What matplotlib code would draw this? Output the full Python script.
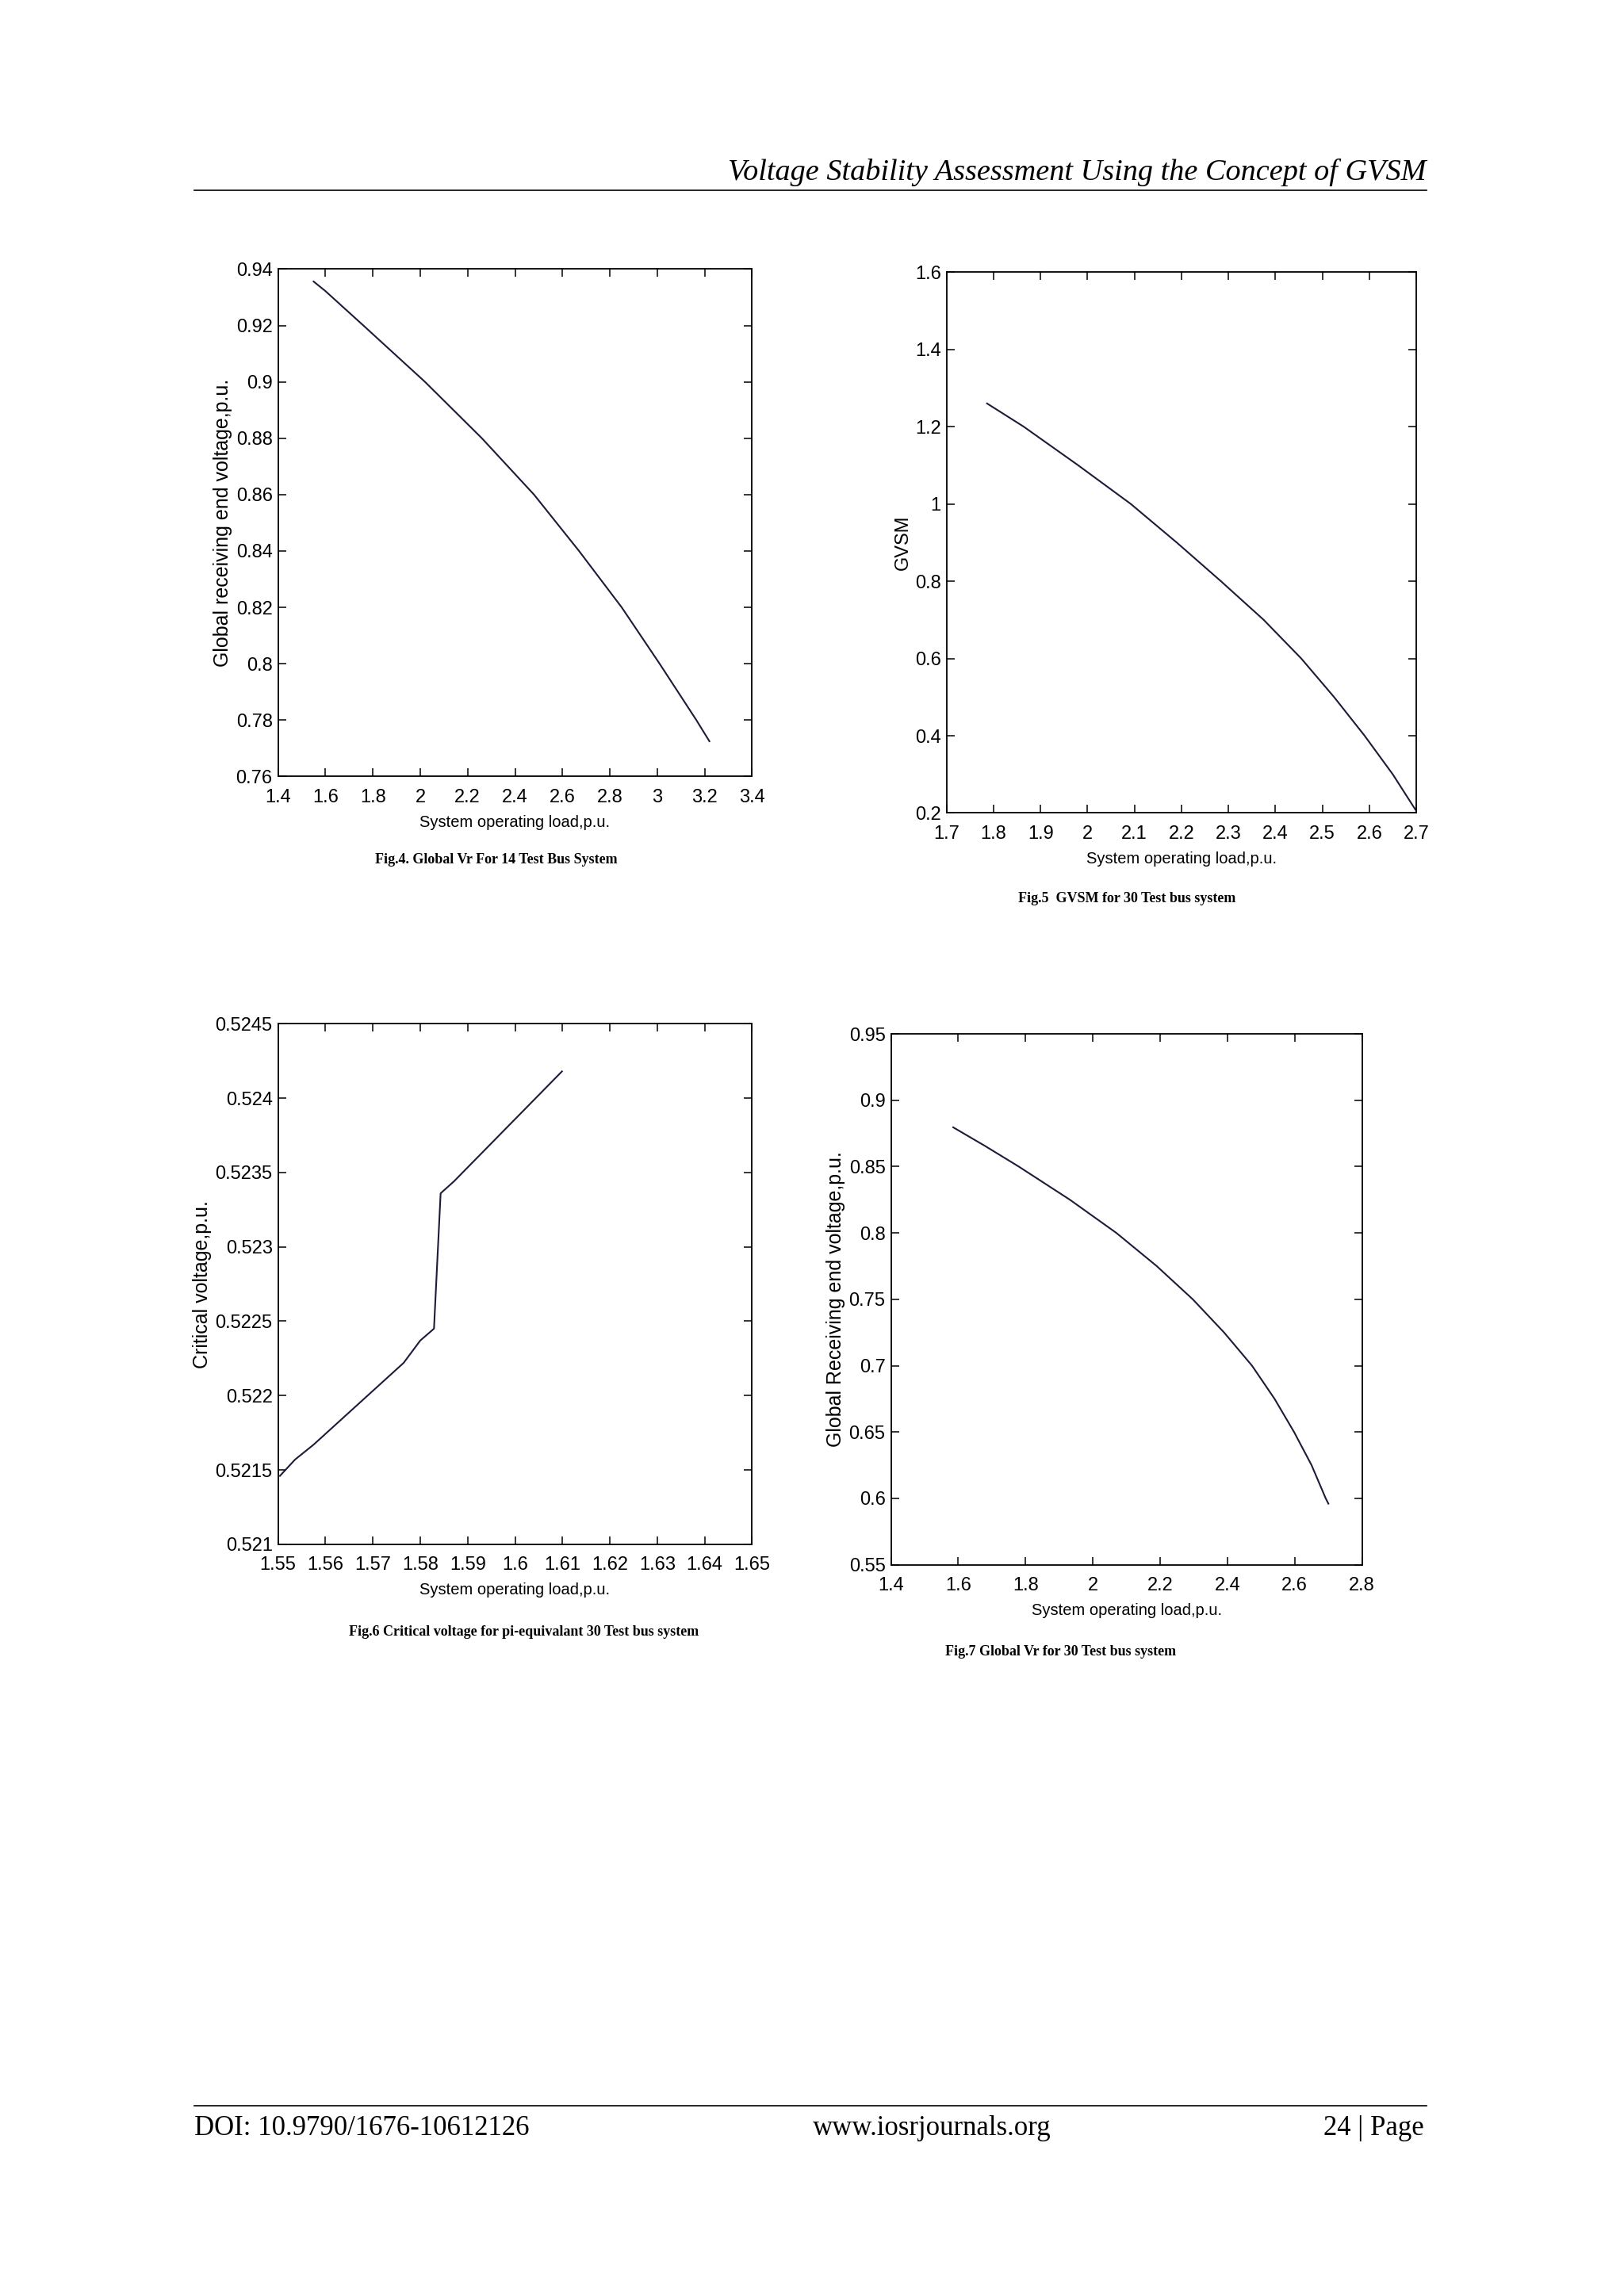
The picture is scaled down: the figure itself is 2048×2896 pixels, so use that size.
import matplotlib
matplotlib.use("Agg")
import matplotlib.pyplot as plt
from matplotlib.lines import Line2D

# ---- data ----
f4_x = [1.55, 1.60, 1.76, 2.02, 2.26, 2.48, 2.67, 2.85, 3.01, 3.165, 3.22]
f4_y = [0.9356, 0.9322, 0.9200, 0.9000, 0.8800, 0.8600, 0.8400, 0.8200, 0.8000, 0.7800, 0.7725]

f5_x = [1.786, 1.864, 1.98, 2.092, 2.19, 2.284, 2.375, 2.455, 2.525, 2.59, 2.65, 2.698]
f5_y = [1.260, 1.200, 1.100, 1.000, 0.900, 0.800, 0.700, 0.600, 0.500, 0.400, 0.300, 0.209]

f6_x = [1.5504, 1.5536, 1.5575, 1.5765, 1.5800, 1.5829, 1.5843, 1.5871, 1.6099]
f6_y = [0.52146, 0.52157, 0.52167, 0.52222, 0.52237, 0.52245, 0.52336, 0.52344, 0.52418]

f7_x = [1.585, 1.68, 1.78, 1.932, 2.07, 2.19, 2.297, 2.39, 2.473, 2.54, 2.598, 2.65, 2.692, 2.70]
f7_y = [0.8796, 0.8655, 0.8500, 0.8250, 0.8000, 0.7750, 0.7500, 0.7250, 0.7000, 0.6750, 0.6500, 0.6250, 0.6000, 0.5960]

f4_xticks = [1.4, 1.6, 1.8, 2.0, 2.2, 2.4, 2.6, 2.8, 3.0, 3.2, 3.4]
f4_xlabels = ["1.4", "1.6", "1.8", "2", "2.2", "2.4", "2.6", "2.8", "3", "3.2", "3.4"]
f4_yticks = [0.76, 0.78, 0.80, 0.82, 0.84, 0.86, 0.88, 0.90, 0.92, 0.94]
f4_ylabels = ["0.76", "0.78", "0.8", "0.82", "0.84", "0.86", "0.88", "0.9", "0.92", "0.94"]

f5_xticks = [1.7, 1.8, 1.9, 2.0, 2.1, 2.2, 2.3, 2.4, 2.5, 2.6, 2.7]
f5_xlabels = ["1.7", "1.8", "1.9", "2", "2.1", "2.2", "2.3", "2.4", "2.5", "2.6", "2.7"]
f5_yticks = [0.2, 0.4, 0.6, 0.8, 1.0, 1.2, 1.4, 1.6]
f5_ylabels = ["0.2", "0.4", "0.6", "0.8", "1", "1.2", "1.4", "1.6"]

f6_xticks = [1.55, 1.56, 1.57, 1.58, 1.59, 1.60, 1.61, 1.62, 1.63, 1.64, 1.65]
f6_xlabels = ["1.55", "1.56", "1.57", "1.58", "1.59", "1.6", "1.61", "1.62", "1.63", "1.64", "1.65"]
f6_yticks = [0.521, 0.5215, 0.522, 0.5225, 0.523, 0.5235, 0.524, 0.5245]
f6_ylabels = ["0.521", "0.5215", "0.522", "0.5225", "0.523", "0.5235", "0.524", "0.5245"]

f7_xticks = [1.4, 1.6, 1.8, 2.0, 2.2, 2.4, 2.6, 2.8]
f7_xlabels = ["1.4", "1.6", "1.8", "2", "2.2", "2.4", "2.6", "2.8"]
f7_yticks = [0.55, 0.60, 0.65, 0.70, 0.75, 0.80, 0.85, 0.90, 0.95]
f7_ylabels = ["0.55", "0.6", "0.65", "0.7", "0.75", "0.8", "0.85", "0.9", "0.95"]

xlabel_txt = "System operating load,p.u."
ylabels_txt = ["Global receiving end voltage,p.u.", "GVSM", "Critical voltage,p.u.", "Global Receiving end voltage,p.u."]
captions = ["Fig.4. Global Vr For 14 Test Bus System",
            "Fig.5  GVSM for 30 Test bus system",
            "Fig.6 Critical voltage for pi-equivalant 30 Test bus system",
            "Fig.7 Global Vr for 30 Test bus system"]

SANS = ["Liberation Sans", "DejaVu Sans"]
SERIF = ["Liberation Serif", "DejaVu Serif"]

fig = plt.figure(figsize=(20.48, 28.96), dpi=100)
fig.patch.set_facecolor("white")

panels = [
    dict(rect=[0.1712, 0.6618, 0.2919, 0.2210], x=f4_x, y=f4_y, xt=f4_xticks, xl=f4_xlabels,
         yt=f4_yticks, yl=f4_ylabels, xlim=(1.4, 3.4), ylim=(0.76, 0.94),
         cap=(0.3054, 0.6256), ylfs=18),
    dict(rect=[0.5829, 0.6459, 0.2892, 0.2356], x=f5_x, y=f5_y, xt=f5_xticks, xl=f5_xlabels,
         yt=f5_yticks, yl=f5_ylabels, xlim=(1.7, 2.7), ylim=(0.2, 1.6),
         cap=(0.6937, 0.6086), ylfs=17),
    dict(rect=[0.1712, 0.3274, 0.2919, 0.2267], x=f6_x, y=f6_y, xt=f6_xticks, xl=f6_xlabels,
         yt=f6_yticks, yl=f6_ylabels, xlim=(1.55, 1.65), ylim=(0.521, 0.5245),
         cap=(0.3225, 0.2893), ylfs=18),
    dict(rect=[0.5486, 0.3185, 0.2901, 0.2312], x=f7_x, y=f7_y, xt=f7_xticks, xl=f7_xlabels,
         yt=f7_yticks, yl=f7_ylabels, xlim=(1.4, 2.8), ylim=(0.55, 0.95),
         cap=(0.6532, 0.2804), ylfs=18),
]

for i, p in enumerate(panels):
    ax = fig.add_axes(p["rect"])
    ax.plot(p["x"], p["y"], color="#1c1c3a", linewidth=1.5)
    ax.set_xlim(*p["xlim"])
    ax.set_ylim(*p["ylim"])
    ax.set_xticks(p["xt"])
    ax.set_xticklabels(p["xl"], family=SANS, fontsize=17)
    ax.set_yticks(p["yt"])
    ax.set_yticklabels(p["yl"], family=SANS, fontsize=17)
    ax.tick_params(direction="in", top=True, right=True, length=7, width=1.1, color="black")
    ax.tick_params(axis="x", pad=11)
    ax.tick_params(axis="y", pad=5)
    for s in ax.spines.values():
        s.set_linewidth(1.3)
        s.set_color("black")
    ax.set_xlabel(xlabel_txt, family=SANS, fontsize=14.5, labelpad=8)
    ax.set_ylabel(ylabels_txt[i], family=SANS, fontsize=p["ylfs"], labelpad=3)
    fig.text(p["cap"][0], p["cap"][1], captions[i], family=SERIF, fontweight="bold",
             fontsize=13, ha="center", va="center")

# header and footer
fig.text(0.8784, 0.9248, "Voltage Stability Assessment Using the Concept of GVSM",
         family=SERIF, style="italic", fontsize=27.5, ha="right", va="center")
fig.add_artist(Line2D([0.1198, 0.8784], [0.9172, 0.9172], transform=fig.transFigure,
                      color="black", linewidth=1.2))
fig.add_artist(Line2D([0.1198, 0.8784], [0.0828, 0.0828], transform=fig.transFigure,
                      color="black", linewidth=1.2))
fig.text(0.1198, 0.0730, "DOI: 10.9790/1676-10612126", family=SERIF, fontsize=25, ha="left", va="center")
fig.text(0.5739, 0.0730, "www.iosrjournals.org", family=SERIF, fontsize=25, ha="center", va="center")
fig.text(0.8766, 0.0730, "24 | Page", family=SERIF, fontsize=25, ha="right", va="center")

fig.savefig("out.png", dpi=100, facecolor="white")
